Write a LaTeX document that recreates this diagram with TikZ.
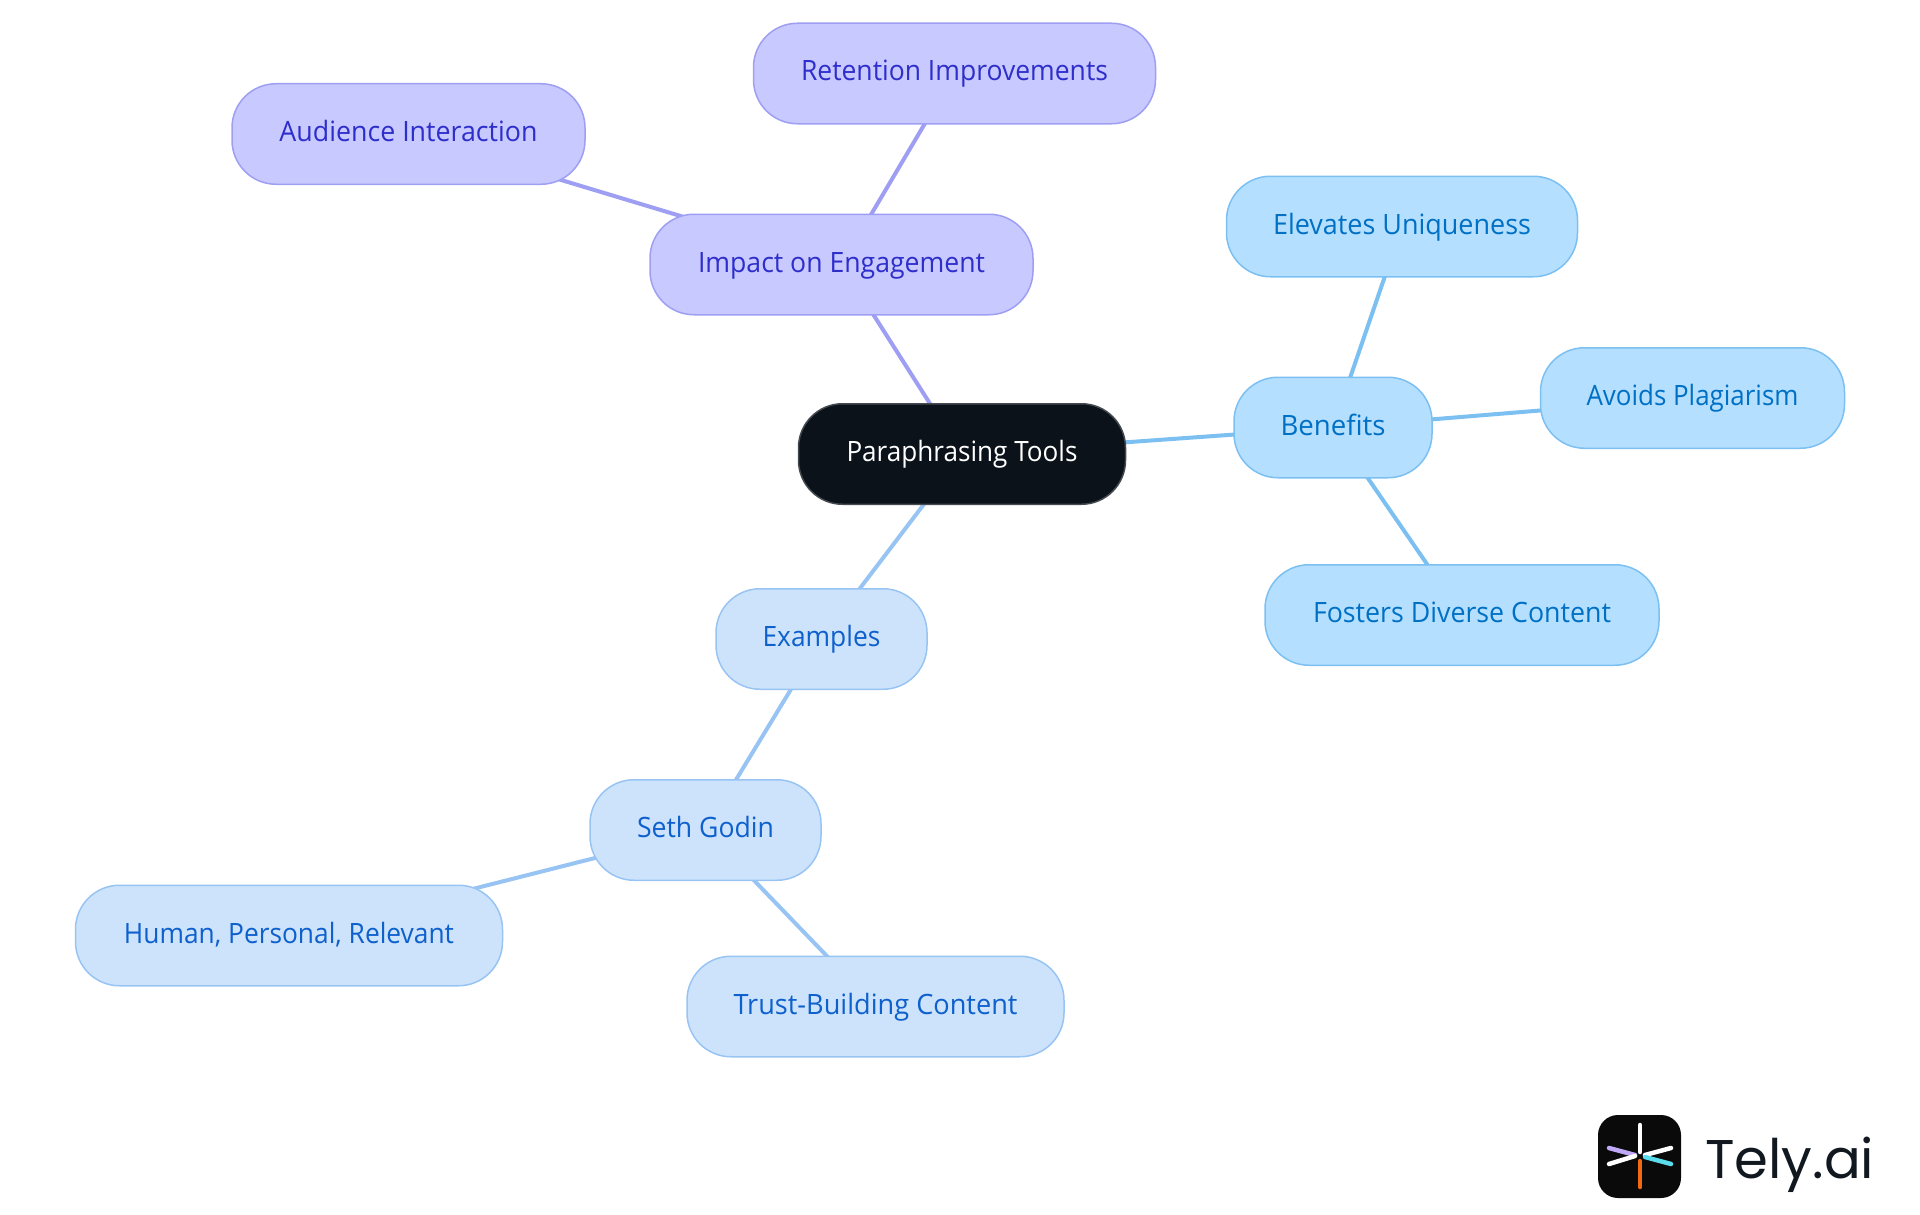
\documentclass[tikz,border=0pt]{standalone}
\usepackage{fontspec}
\setmainfont{Open Sans}
\newfontfamily\logofont{Poppins}
\usetikzlibrary{backgrounds}
\definecolor{rootfill}{HTML}{0B121A}
\definecolor{rootline}{HTML}{444A50}
\definecolor{vfill}{HTML}{C8C9FE}
\definecolor{vline}{HTML}{9E9FF3}
\definecolor{vtext}{HTML}{2E2ECB}
\definecolor{bfill}{HTML}{B4DFFF}
\definecolor{bline}{HTML}{7CC0F2}
\definecolor{btext}{HTML}{0070C4}
\definecolor{efill}{HTML}{CDE3FC}
\definecolor{eline}{HTML}{98C4F3}
\definecolor{etext}{HTML}{0E60CC}
\definecolor{logoink}{HTML}{111820}
\definecolor{logopurple}{HTML}{BFA8F5}
\definecolor{logocyan}{HTML}{5ADCEC}
\definecolor{logoorange}{HTML}{F26A0F}
\newcommand{\fitw}[2]{\resizebox{#1pt}{\height}{#2}}
\tikzset{
  x=1pt,y=-1pt,
  pill/.style={rectangle,rounded corners=44pt,inner sep=0pt,line width=1.5pt,minimum height=100.5pt,
    font=\fontsize{28pt}{30pt}\selectfont,text height=21pt,text depth=6pt,align=center},
  rootpill/.style={pill,fill=rootfill,draw=rootline,text=white},
  vpill/.style={pill,fill=vfill,draw=vline,text=vtext},
  bpill/.style={pill,fill=bfill,draw=bline,text=btext},
  epill/.style={pill,fill=efill,draw=eline,text=etext},
  link/.style={line width=4pt},
  spoke/.style={line width=4.5pt,line cap=round}
}
\begin{document}
\begin{tikzpicture}
\useasboundingbox (0,0) rectangle (1920,1215);
\node[rootpill,minimum width=327pt] (root) at (962,454) {\fitw{231}{Paraphrasing Tools}};
\node[vpill,minimum width=383pt] (impact) at (841.5,264.5) {\fitw{287}{Impact on Engagement}};
\node[vpill,minimum width=402pt] (ret) at (954.5,73.5) {\fitw{307}{Retention Improvements}};
\node[vpill,minimum width=353pt] (aud) at (408.5,134) {\fitw{258}{Audience Interaction}};
\node[bpill,minimum width=198pt] (ben) at (1333,427.5) {\fitw{105}{Benefits}};
\node[bpill,minimum width=351pt] (uniq) at (1402,226.5) {\fitw{258}{Elevates Uniqueness}};
\node[bpill,minimum width=304pt] (plag) at (1692.5,398) {\fitw{212}{Avoids Plagiarism}};
\node[bpill,minimum width=394pt] (div) at (1462,615) {\fitw{298}{Fosters Diverse Content}};
\node[epill,minimum width=211pt] (ex) at (821.5,639) {\fitw{118}{Examples}};
\node[epill,minimum width=231pt] (seth) at (705.5,830) {\fitw{137}{Seth Godin}};
\node[epill,minimum width=427pt] (hum) at (289,935.5) {\fitw{330}{Human, Personal, Relevant}};
\node[epill,minimum width=377pt] (trust) at (875.5,1006.5) {\fitw{284}{Trust-Building Content}};
\begin{pgfonlayer}{background}
  \draw[link,vline] (root.center) -- (impact.center);
  \draw[link,vline] (impact.center) -- (ret.center);
  \draw[link,vline] (impact.center) -- (aud.center);
  \draw[link,bline] (root.center) -- (ben.center);
  \draw[link,bline] (ben.center) -- (uniq.center);
  \draw[link,bline] (ben.center) -- (plag.center);
  \draw[link,bline] (ben.center) -- (div.center);
  \draw[link,eline] (root.center) -- (ex.center);
  \draw[link,eline] (ex.center) -- (seth.center);
  \draw[link,eline] (seth.center) -- (hum.center);
  \draw[link,eline] (seth.center) -- (trust.center);
\end{pgfonlayer}
% logo
\fill[rounded corners=20pt,fill=black!96] (1598,1115) rectangle (1681,1198);
\draw[spoke,white] (1640,1125) -- (1640,1152);
\draw[spoke,logoorange] (1640,1161) -- (1640,1187);
\draw[spoke,logopurple] (1609,1148) -- (1635,1155);
\draw[spoke,white] (1609,1164) -- (1635,1156);
\draw[spoke,white] (1671,1148) -- (1645,1155);
\draw[spoke,logocyan] (1671,1164) -- (1645,1157);
\node[inner sep=0pt,anchor=base west,text=logoink] (logo) at (1705,1178)
  {\resizebox{169pt}{!}{\logofont Tely.ai}};
\end{tikzpicture}
\end{document}
